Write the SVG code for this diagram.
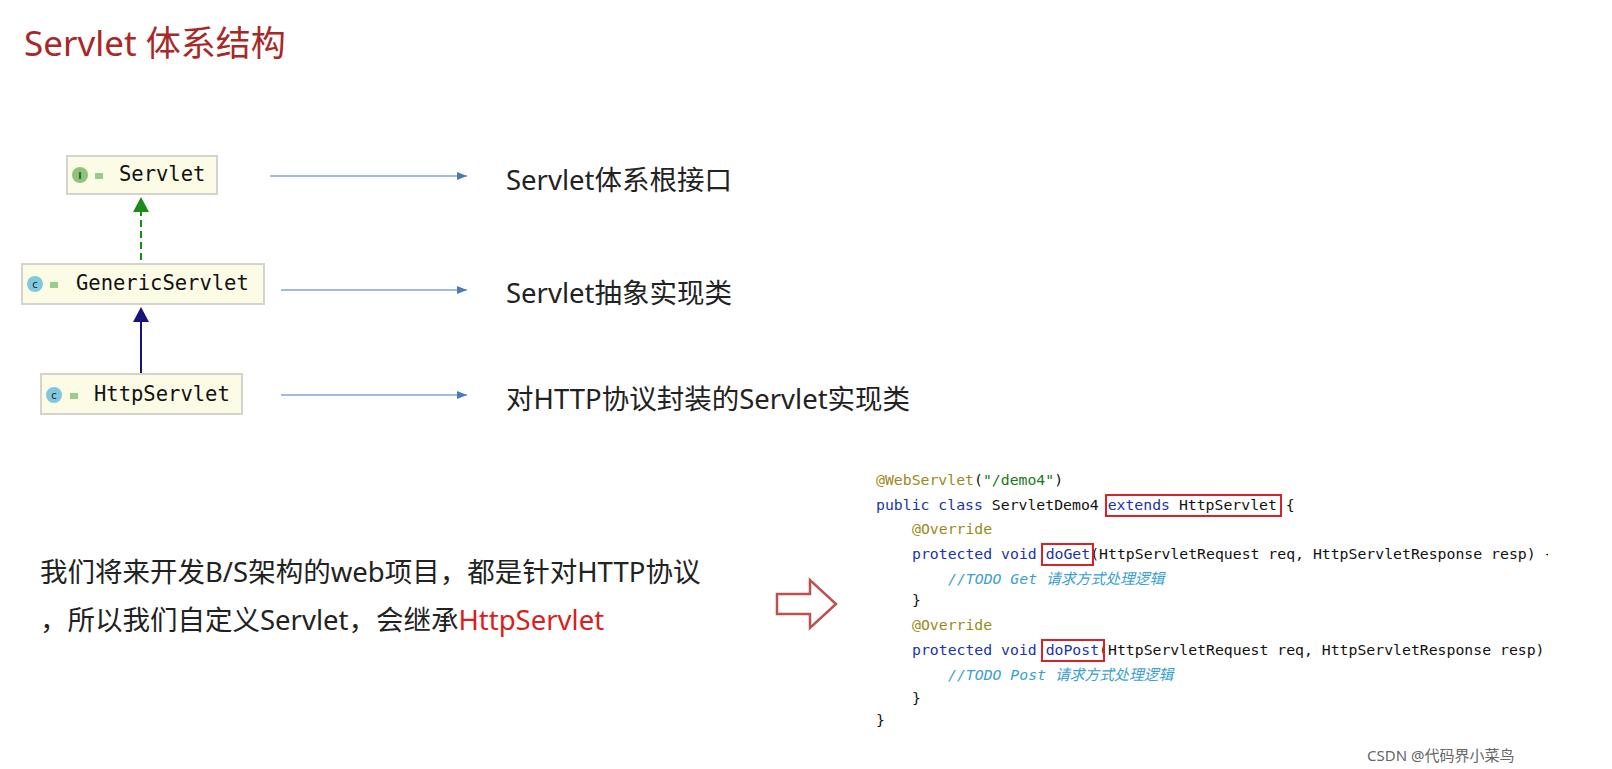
<svg xmlns="http://www.w3.org/2000/svg" width="1612" height="769" viewBox="0 0 1612 769">
<style>
.node{fill:#fcfce6;stroke:#d4d4cc;stroke-width:2}
.nt{font-family:"DejaVu Sans Mono","Liberation Mono",monospace;font-size:20.5px;fill:#111}
.lbl{font-family:"Noto Sans","Noto Sans CJK SC",sans-serif;font-size:27.5px;fill:#222}
.code{font-family:"DejaVu Sans Mono","Liberation Mono",monospace;font-size:14.8px;fill:#111}
.kw{fill:#1a34a8}.an{fill:#9a8a1a}.str{fill:#1a7a1a}.cm{fill:#3aa0d0;font-style:italic}
.box{fill:none;stroke:#d8222a;stroke-width:2}
.ptr{stroke:#4a7ab8;stroke-width:1.2}
</style>
<defs>
<marker id="bl" markerWidth="10" markerHeight="8" refX="10" refY="4" orient="auto" markerUnits="userSpaceOnUse"><path d="M0,0L10,4L0,8z" fill="#4a7ab8"/></marker>
<clipPath id="cc"><rect x="860" y="460" width="688" height="300"/></clipPath>
</defs>
<rect width="1612" height="769" fill="#fff"/>
<text x="24" y="56" font-family="Noto Sans,Noto Sans CJK SC,sans-serif" font-size="35" fill="#a82828">Servlet 体系结构</text>
<g id="connectors">
<line x1="141" y1="260" x2="141" y2="210" stroke="#1a8a1a" stroke-width="2" stroke-dasharray="7,4"/>
<path d="M133,212L141,197L149,212z" fill="#1a8a1a"/>
<line x1="141" y1="373" x2="141" y2="322" stroke="#14147a" stroke-width="2"/>
<path d="M133,322L141,307L149,322z" fill="#14147a"/>
<line class="ptr" x1="270" y1="176" x2="467" y2="176" marker-end="url(#bl)"/>
<line class="ptr" x1="281" y1="290" x2="467" y2="290" marker-end="url(#bl)"/>
<line class="ptr" x1="281" y1="395" x2="467" y2="395" marker-end="url(#bl)"/>
</g>
<g id="servlet">
<rect class="node" x="67" y="156" width="150" height="38"/>
<circle cx="80" cy="175" r="8" fill="#8fc27a"/><text x="80" y="179" font-family="DejaVu Sans" font-size="9" font-weight="bold" text-anchor="middle" fill="#2a5a1a">I</text>
<rect x="95" y="173" width="8" height="6" fill="#9ccc8a"/>
<text class="nt" x="119" y="181">Servlet</text>
</g>
<g id="generic">
<rect class="node" x="22" y="264" width="242" height="40"/>
<circle cx="35" cy="284" r="8" fill="#80c8e0"/><text x="35" y="288" font-family="DejaVu Sans" font-size="10" text-anchor="middle" fill="#222">c</text>
<rect x="50" y="282" width="8" height="6" fill="#9ccc8a"/>
<text class="nt" x="76" y="290">GenericServlet</text>
</g>
<g id="http">
<rect class="node" x="41" y="374" width="201" height="40"/>
<circle cx="54" cy="395" r="8" fill="#80c8e0"/><text x="54" y="399" font-family="DejaVu Sans" font-size="10" text-anchor="middle" fill="#222">c</text>
<rect x="70" y="393" width="8" height="6" fill="#9ccc8a"/>
<text class="nt" x="94" y="401">HttpServlet</text>
</g>
<text class="lbl" x="506" y="190">Servlet体系根接口</text>
<text class="lbl" x="506" y="303">Servlet抽象实现类</text>
<text class="lbl" x="506" y="409">对HTTP协议封装的Servlet实现类</text>
<text class="lbl" x="40" y="582">我们将来开发B/S架构的web项目，都是针对HTTP协议</text>
<text class="lbl" x="40" y="630">，所以我们自定义Servlet，会继承<tspan fill="#d81e1e">HttpServlet</tspan></text>
<path d="M777,594H810V580L836,604L810,628V614H777z" fill="none" stroke="#c0504d" stroke-width="2.5"/>
<g clip-path="url(#cc)" class="code">
<text x="876" y="485"><tspan class="an">@WebServlet</tspan>(<tspan class="str">"/demo4"</tspan>)</text>
<text x="876" y="510"><tspan class="kw">public class</tspan> ServletDemo4 <tspan class="kw">extends</tspan> HttpServlet {</text>
<text x="912" y="534" class="an">@Override</text>
<text x="912" y="559"><tspan class="kw">protected void</tspan> <tspan class="kw">doGet</tspan>(HttpServletRequest req, HttpServletResponse resp) {</text>
<text x="948" y="584" class="cm">//TODO Get <tspan font-family="Noto Sans CJK SC,sans-serif">请求方式处理逻辑</tspan></text>
<text x="912" y="605">}</text>
<text x="912" y="630" class="an">@Override</text>
<text x="912" y="655"><tspan class="kw">protected void</tspan> <tspan class="kw">doPost</tspan>(HttpServletRequest req, HttpServletResponse resp) {</text>
<text x="948" y="680" class="cm">//TODO Post <tspan font-family="Noto Sans CJK SC,sans-serif">请求方式处理逻辑</tspan></text>
<text x="912" y="703">}</text>
<text x="876" y="725">}</text>
</g>
<rect class="box" x="1106" y="495" width="175" height="21"/>
<rect class="box" x="1042" y="544" width="51" height="21"/>
<rect class="box" x="1042" y="640" width="62" height="21"/>
<text x="1367" y="761" font-family="Noto Sans,Noto Sans CJK SC,sans-serif" font-size="15" fill="#666">CSDN @代码界小菜鸟</text>
</svg>
